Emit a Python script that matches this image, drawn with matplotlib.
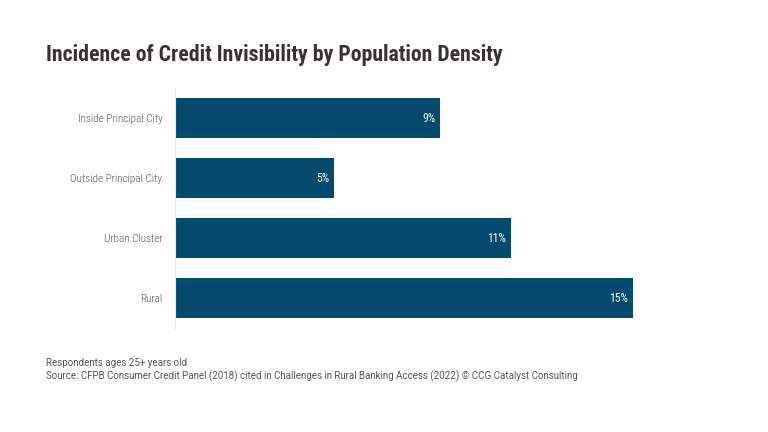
import matplotlib.pyplot as plt
from matplotlib import font_manager

names = {f.name for f in font_manager.fontManager.ttflist}
cond = 'Roboto Condensed' if 'Roboto Condensed' in names else 'Roboto'
plt.rcParams['font.family'] = [cond, 'DejaVu Sans']

categories = ['Inside Principal City', 'Outside Principal City', 'Urban Cluster', 'Rural']
values = [8.7, 5.2, 11.0, 15.0]
labels = ['9%', '5%', '11%', '15%']

bar_color = '#034a6e'

fig = plt.figure(figsize=(7.68, 4.32), dpi=100)
ax = fig.add_axes([175 / 768, 1 - 328 / 432, 550 / 768, 240 / 432])

y = list(range(len(categories)))
bars = ax.barh(y, values, height=0.67, color=bar_color)
for bar, lab in zip(bars, labels):
    ax.text(bar.get_width() - 0.15, bar.get_y() + bar.get_height() / 2, lab,
            ha='right', va='center', color='white', fontsize=8.5)

ax.set_ylim(3.5, -0.5)
ax.set_xlim(0, 550 / 30.5)
ax.set_yticks(y)
ax.set_yticklabels(categories, fontsize=8, color='#555555', fontweight='light')
ax.tick_params(axis='y', length=0, pad=9)
ax.set_xticks([])
for s in ['top', 'right', 'bottom']:
    ax.spines[s].set_visible(False)
ax.spines['left'].set_color('#e6e6e6')
ax.spines['left'].set_linewidth(0.8)

fig.text(46 / 768, 1 - 55 / 432, 'Incidence of Credit Invisibility by Population Density',
         fontsize=15.7, fontweight='bold', color='#3a3232', va='center', ha='left')
fig.text(46 / 768, 1 - 363 / 432, 'Respondents ages 25+ years old',
         fontsize=7, color='#555555', va='center', ha='left', family=['Roboto', 'DejaVu Sans'])
fig.text(46 / 768, 1 - 376 / 432,
         'Source: CFPB Consumer Credit Panel (2018) cited in Challenges in Rural Banking Access (2022) \u00a9 CCG Catalyst Consulting',
         fontsize=7, color='#555555', va='center', ha='left', family=['Roboto', 'DejaVu Sans'])

fig.savefig('out.png', dpi=100, facecolor='white')
